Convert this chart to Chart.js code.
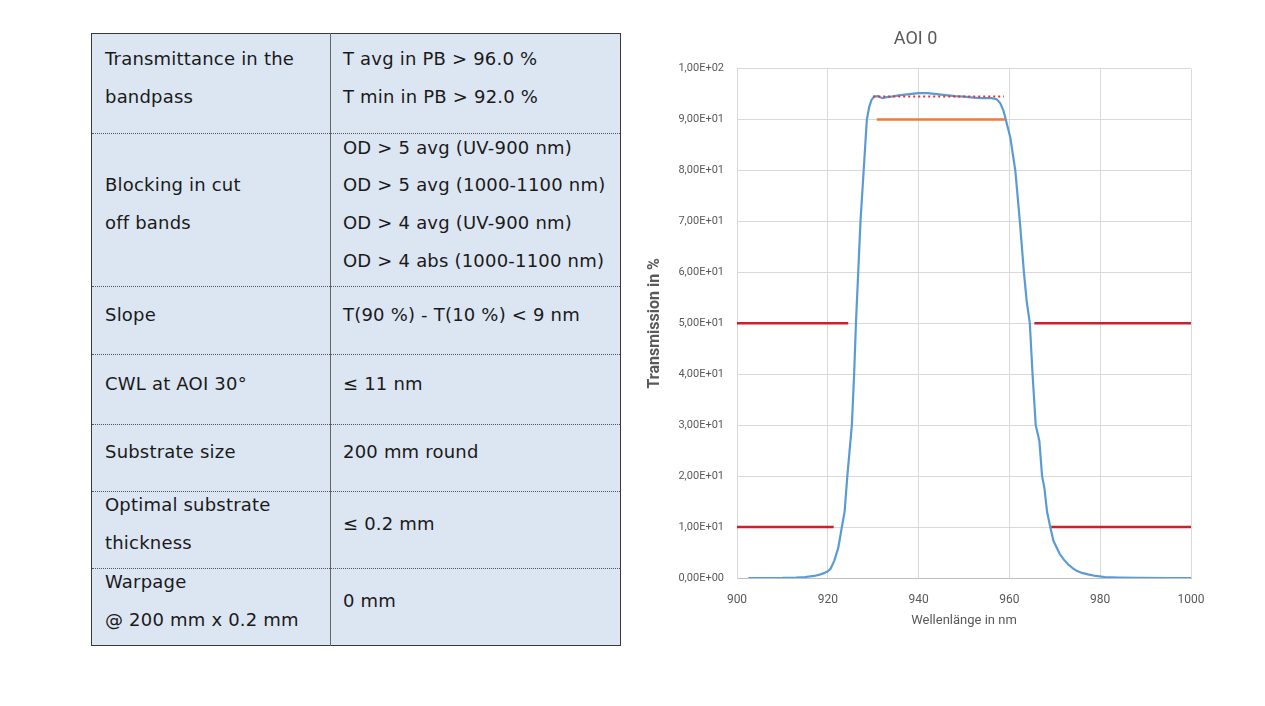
<!DOCTYPE html>
<html>
<head>
<meta charset="utf-8">
<script src="https://cdn.jsdelivr.net/npm/chart.js@4"></script>
<style>
    body { margin: 0; background: #fff; width: 1265px; height: 706px; position: relative; overflow: hidden; }
    #specs {
        position: absolute; left: 91px; top: 33px;
        border-collapse: collapse; background: #dce6f2;
        border: 1px solid #3a3a3a;
        font-family: "DejaVu Sans", sans-serif; font-size: 18px; letter-spacing: 0.2px; color: #1a1a1a;
    }
    #specs td { padding: 0; vertical-align: middle; border-top: 1px dotted #555; }
    #specs td:first-child { width: 225px; padding-left: 13px; border-right: 1px solid #666; }
    #specs td:last-child { width: 277px; padding-left: 12px; }
    #specs td div { position: relative; top: -6px; line-height: 37.7px; white-space: nowrap; }
    #chart-box { position: absolute; left: 640px; top: 20px; width: 580px; height: 620px; }
</style>
</head>
<body>
<table id="specs"></table>
<div id="chart-box"><canvas id="aoiChart" width="580" height="620"></canvas></div>
<script>
    // --- TABELA DE ESPECIFICAÇÃO ---
    const specNames = [['Transmittance in the', 'bandpass'], ['Blocking in cut', 'off bands'], ['Slope'], ['CWL at AOI 30°'], ['Substrate size'], ['Optimal substrate', 'thickness'], ['Warpage', '@ 200 mm x 0.2 mm']];
    const specValues = [['T avg in PB > 96.0 %', 'T min in PB > 92.0 %'], ['OD > 5 avg (UV-900 nm)', 'OD > 5 avg (1000-1100 nm)', 'OD > 4 avg (UV-900 nm)', 'OD > 4 abs (1000-1100 nm)'], ['T(90 %) - T(10 %) < 9 nm'], ['≤ 11 nm'], ['200 mm round'], ['≤ 0.2 mm'], ['0 mm']];
    const rowHeights = [100, 153, 68, 70, 67, 77, 77];

    // --- DADOS DO GRÁFICO ---
    const wavelengths = [902.5, 905, 910, 913, 915, 917, 918, 919, 920, 920.6, 921.4, 922.3, 923.1, 923.7, 924.3, 924.8, 925.3, 925.8, 926.2, 926.7, 927.2, 927.9, 928.6, 929.1, 929.6, 930.2, 931, 932, 933, 934, 936, 938, 940, 942, 944, 946, 948, 950, 952, 954, 956, 957.2, 958, 958.7, 959.2, 960.2, 961.3, 962.3, 963.2, 963.8, 964.5, 965.1, 965.8, 966.6, 967.2, 967.7, 968.3, 969, 969.7, 970.4, 971.1, 972, 972.9, 974, 974.8, 976, 977.3, 979, 981, 984, 988, 995, 1000];
    const transmission = [0, 0, 0.02, 0.1, 0.2, 0.4, 0.6, 0.9, 1.3, 1.8, 3.3, 5.9, 10, 13, 20, 25, 30, 40, 50, 60, 70, 80, 90, 92.4, 93.8, 94.5, 94.6, 94.2, 94.4, 94.5, 94.8, 95.0, 95.2, 95.2, 95.0, 94.8, 94.6, 94.5, 94.3, 94.2, 94.2, 94.0, 93.2, 91.7, 90, 86.5, 80, 70, 60, 54.4, 50, 40, 30, 26.9, 20, 17.7, 13, 10, 7.3, 6, 4.7, 3.6, 2.7, 1.9, 1.4, 1.0, 0.7, 0.4, 0.2, 0.1, 0.03, 0, 0];

    // limites (faixa em nm + nível em %)
    const edge50Left = [900, 924.5], edge50Right = [965.5, 1000], edge50Level = 50;
    const edge10Left = [900, 921.3], edge10Right = [969.2, 1000], edge10Level = 10;
    const tMinRange = [930.8, 959], tMinLevel = 90;
    const tAvgRange = [930, 958.8], tAvgLevel = 94.5;

    const xTicks = [900, 920, 940, 960, 980, 1000];
    const yTickLabels = ['0,00E+00', '1,00E+01', '2,00E+01', '3,00E+01', '4,00E+01', '5,00E+01', '6,00E+01', '7,00E+01', '8,00E+01', '9,00E+01', '1,00E+02'];

    // monta a tabela
    const table = document.getElementById('specs');
    specNames.forEach((name, i) => {
        const tr = document.createElement('tr');
        tr.style.height = rowHeights[i] + 'px';
        const a = document.createElement('td');
        a.innerHTML = '<div>' + name.join('<br>') + '</div>';
        const b = document.createElement('td');
        b.innerHTML = '<div>' + specValues[i].join('<br>') + '</div>';
        if (i === 0) { a.style.borderTop = 'none'; b.style.borderTop = 'none'; }
        tr.appendChild(a); tr.appendChild(b);
        table.appendChild(tr);
    });

    const segment = (range, level) => range.map(x => ({ x: x, y: level }));
    const flat = (range, level, color, width, dash) => ({
        data: segment(range, level), borderColor: color, borderWidth: width,
        borderDash: dash || [], pointRadius: 0, fill: false
    });

    const grey = '#595959';
    new Chart(document.getElementById('aoiChart'), {
        type: 'line',
        data: {
            datasets: [
                flat(tAvgRange, tAvgLevel, '#e8302a', 2, [2, 3]),
                { data: wavelengths.map((w, i) => ({ x: w, y: transmission[i] })), borderColor: '#5b9bd5', borderWidth: 2.2, pointRadius: 0, tension: 0, fill: false },
                flat(tMinRange, tMinLevel, '#ed7d31', 2.5),
                flat(edge50Left, edge50Level, '#c8222a', 2.5),
                flat(edge50Right, edge50Level, '#c8222a', 2.5),
                flat(edge10Left, edge10Level, '#c8222a', 2.5),
                flat(edge10Right, edge10Level, '#c8222a', 2.5)
            ]
        },
        options: {
            responsive: false, animation: false,
            layout: { padding: { left: 0, right: 29, top: 0, bottom: 0 } },
            plugins: {
                legend: { display: false },
                tooltip: { enabled: false },
                title: { display: true, text: 'AOI 0', color: grey, font: { family: 'Roboto', size: 18, weight: 'normal' }, padding: { top: 9, bottom: 18 } }
            },
            scales: {
                x: {
                    type: 'linear', min: 900, max: 1000,
                    afterBuildTicks: s => { s.ticks = xTicks.map(v => ({ value: v })); },
                    afterFit: s => { s.height = 62; },
                    grid: { color: '#d9d9d9', drawTicks: false },
                    border: { color: '#bfbfbf' },
                    ticks: { color: grey, padding: 15, font: { family: 'Roboto', size: 12 }, callback: v => String(v) },
                    title: { display: true, text: 'Wellenlänge in nm', color: grey, font: { family: 'Roboto', size: 13 }, padding: { top: 0, bottom: 11 } }
                },
                y: {
                    min: 0, max: 100,
                    ticks: { stepSize: 10, color: grey, padding: 13, font: { family: 'Roboto', size: 11 }, callback: v => yTickLabels[Math.round(v / 10)] },
                    afterFit: s => { s.width = 97; },
                    grid: { color: '#d9d9d9', drawTicks: false },
                    border: { color: '#d9d9d9' },
                    title: { display: true, text: 'Transmission in %', color: grey, font: { family: 'Roboto', size: 16, weight: 'bold' }, padding: { top: 5, bottom: 0 } }
                }
            }
        }
    });
</script>
</body>
</html>
